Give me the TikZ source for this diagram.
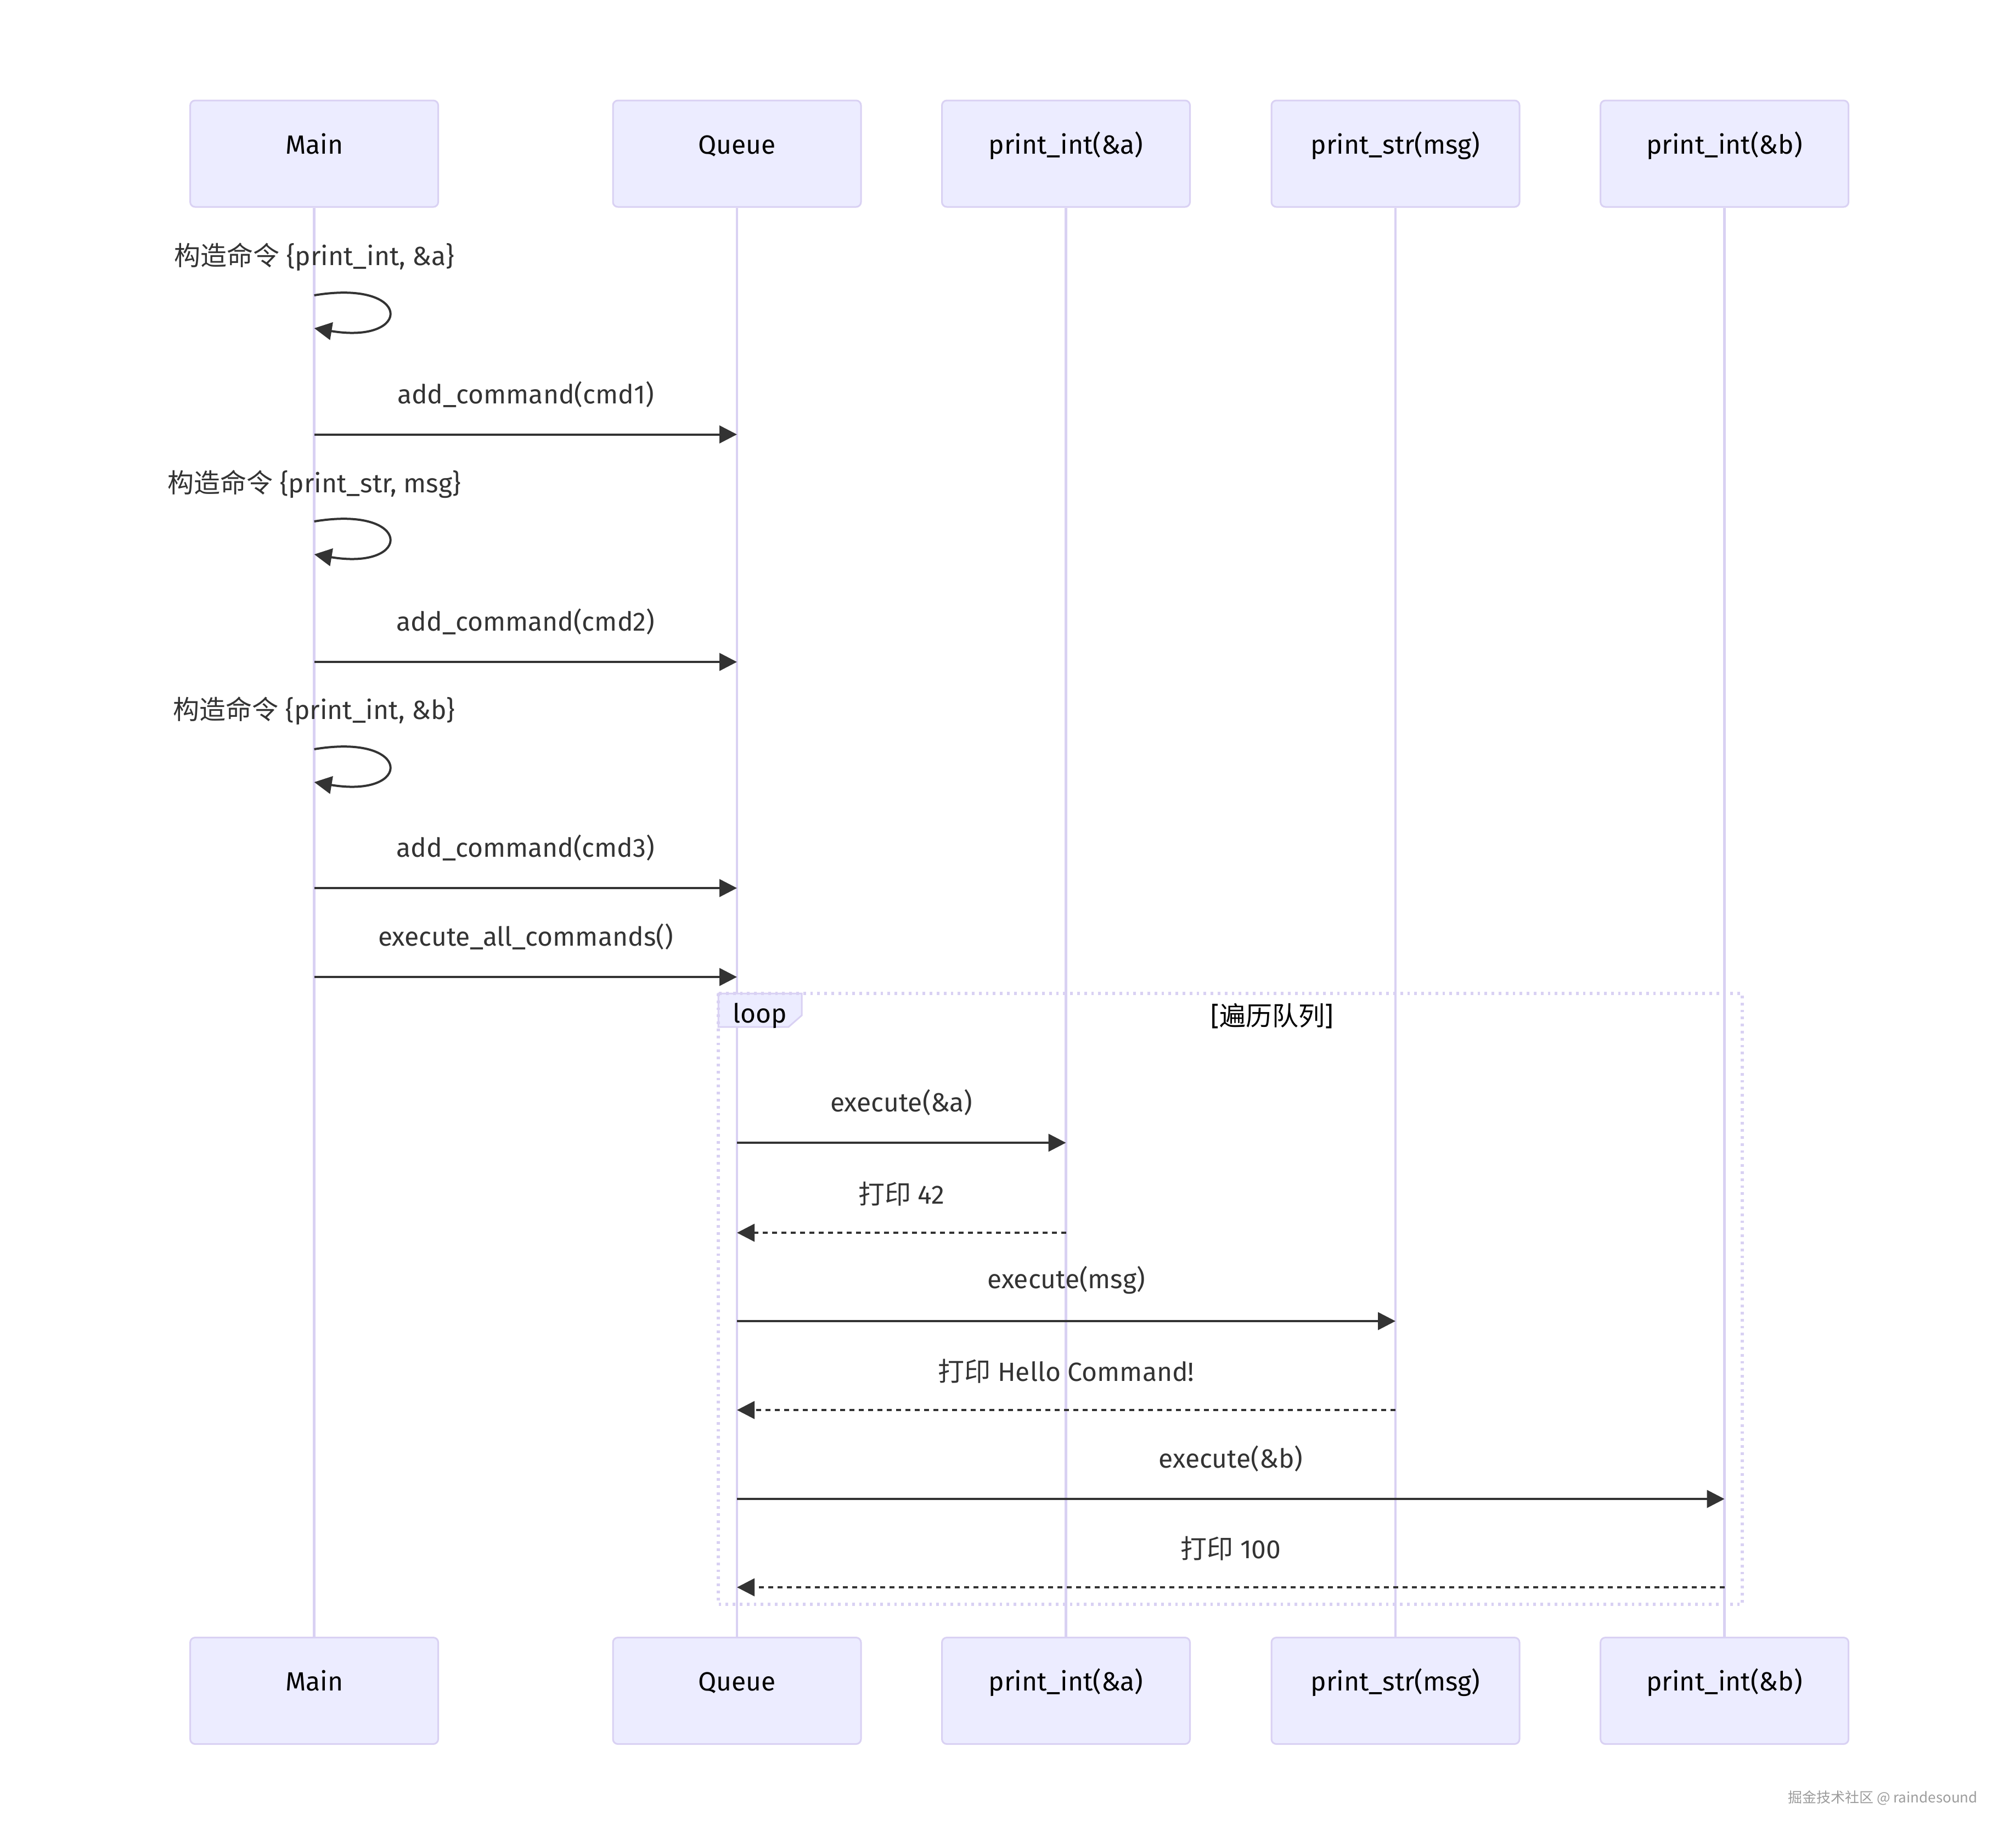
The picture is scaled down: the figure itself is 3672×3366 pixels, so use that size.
\documentclass[tikz,border=0pt]{standalone}
\usepackage{fontspec}
\setmainfont{Fira Sans}
\newfontfamily\cjk{Noto Sans CJK SC}
\newcommand{\zh}[1]{{\cjk #1}}
\usetikzlibrary{arrows.meta,positioning,calc}
\definecolor{actfill}{HTML}{ECECFF}
\definecolor{actline}{HTML}{D9D1F3}
\definecolor{sigline}{HTML}{333333}
\definecolor{labtext}{HTML}{333333}
\definecolor{markgray}{HTML}{9C9C9C}

\begin{document}
\begin{tikzpicture}[
  x=0.25pt, y=-0.25pt,
  font=\fontsize{12}{14}\selectfont,
  actor/.style  = {draw=actline, line width=0.75pt, fill=actfill, rounded corners=2.25pt,
                   minimum width=113pt, minimum height=48.5pt, text=black,
                   text height=8pt, text depth=8pt},
  life/.style   = {draw=actline, line width=1.2pt},
  msg/.style    = {-{Triangle[length=8pt, width=8pt]}, draw=sigline, line width=1pt},
  ret/.style    = {msg, dash pattern=on 2.25pt off 2pt},
  lbl/.style    = {text=labtext, inner sep=1pt},
  loopbox/.style = {draw=actline, line width=1.3pt, dash pattern=on 1.2pt off 2pt},
  looptag/.style = {draw=actline, fill=actfill, line width=0.75pt},
]
\useasboundingbox (0,0) rectangle (3672,3366);

% --- participants, top and bottom ---------------------------------------------------------------
\node[actor] (mainT)  at (572.6,280)  {Main};
\node[actor] (queueT) at (1343,280)   {Queue};
\node[actor] (pintaT) at (1942.5,280) {print\_int(\&a)};
\node[actor] (pstrT)  at (2543,280)   {print\_str(msg)};
\node[actor] (pintbT) at (3142.6,280) {print\_int(\&b)};

\node[actor] (mainB)  at (mainT |- 0,3080.5)  {Main};
\node[actor] (queueB) at (queueT |- 0,3080.5) {Queue};
\node[actor] (pintaB) at (pintaT |- 0,3080.5) {print\_int(\&a)};
\node[actor] (pstrB)  at (pstrT |- 0,3080.5)  {print\_str(msg)};
\node[actor] (pintbB) at (pintbT |- 0,3080.5) {print\_int(\&b)};

% --- lifelines ----------------------------------------------------------------------------------
\draw[life] (mainT.south)  -- (mainB.north);
\draw[life] (queueT.south) -- (queueB.north);
\draw[life] (pintaT.south) -- (pintaB.north);
\draw[life] (pstrT.south)  -- (pstrB.north);
\draw[life] (pintbT.south) -- (pintbB.north);

% --- rows of the messages -----------------------------------------------------------------------
\coordinate (s1) at (0,538);
\coordinate (r1) at (0,791.5);
\coordinate (s2) at (0,950);
\coordinate (r2) at (0,1206);
\coordinate (s3) at (0,1365);
\coordinate (r3) at (0,1618);
\coordinate (r4) at (0,1780);
\coordinate (r5) at (0,2082);
\coordinate (r6) at (0,2246);
\coordinate (r7) at (0,2407);
\coordinate (r8) at (0,2569);
\coordinate (r9) at (0,2731);
\coordinate (r10) at (0,2892);

% --- Main builds three commands and hands them to the queue -------------------------------------
\node[lbl] (l1) at ($(mainT |- s1)+(0,-70)$) {\zh{构造命令} \{print\_int, \&a\}};
\draw[msg] (mainT |- s1) .. controls ($(mainT |- s1)+(180,-30)$) and ($(mainT |- s1)+(180,90)$)
  .. ($(mainT |- s1)+(0,60)$);
\draw[msg] (mainT |- r1) -- node[lbl, above=10.8pt] {add\_command(cmd1)} (queueT |- r1);

\node[lbl] (l2) at ($(mainT |- s2)+(0,-68)$) {\zh{构造命令} \{print\_str, msg\}};
\draw[msg] (mainT |- s2) .. controls ($(mainT |- s2)+(180,-30)$) and ($(mainT |- s2)+(180,90)$)
  .. ($(mainT |- s2)+(0,60)$);
\draw[msg] (mainT |- r2) -- node[lbl, above=10.8pt] {add\_command(cmd2)} (queueT |- r2);

\node[lbl] (l3) at ($(mainT |- s3)+(0,-70)$) {\zh{构造命令} \{print\_int, \&b\}};
\draw[msg] (mainT |- s3) .. controls ($(mainT |- s3)+(180,-30)$) and ($(mainT |- s3)+(180,90)$)
  .. ($(mainT |- s3)+(0,60)$);
\draw[msg] (mainT |- r3) -- node[lbl, above=10.8pt] {add\_command(cmd3)} (queueT |- r3);

\draw[msg] (mainT |- r4) -- node[lbl, above=10.8pt] {execute\_all\_commands()} (queueT |- r4);

% --- the loop frame -----------------------------------------------------------------------------
\draw[looptag] (1309,1810) -- (1461,1810) -- (1461,1850) -- (1437,1871) -- (1309,1871) -- cycle;
\draw[loopbox] (1309,1810) rectangle (3175,2923);
\node[inner sep=0pt, text=black] (looptxt) at (1385,1851) {loop};
\node[inner sep=0pt, text=black] (loopcond) at (2318,1851) {[\zh{遍历队列}]};

% --- each command runs and prints ---------------------------------------------------------------
\draw[msg] (queueT |- r5) -- node[lbl, above=10.8pt] {execute(\&a)} (pintaT |- r5);
\draw[ret] (pintaT |- r6) -- node[lbl, above=10.8pt] {\zh{打印} 42} (queueT |- r6);
\draw[msg] (queueT |- r7) -- node[lbl, above=10.8pt] {execute(msg)} (pstrT |- r7);
\draw[ret] (pstrT |- r8) -- node[lbl, above=10.8pt] {\zh{打印} Hello Command!} (queueT |- r8);
\draw[msg] (queueT |- r9) -- node[lbl, above=10.8pt] {execute(\&b)} (pintbT |- r9);
\draw[ret] (pintbT |- r10) -- node[lbl, above=10.8pt] {\zh{打印} 100} (queueT |- r10);

% --- watermark ----------------------------------------------------------------------------------
\node[text=markgray, font=\cjk\fontsize{6.5}{8}\selectfont] (mark) at (3431,3276)
  {掘金技术社区 @ raindesound};

\end{tikzpicture}
\end{document}
